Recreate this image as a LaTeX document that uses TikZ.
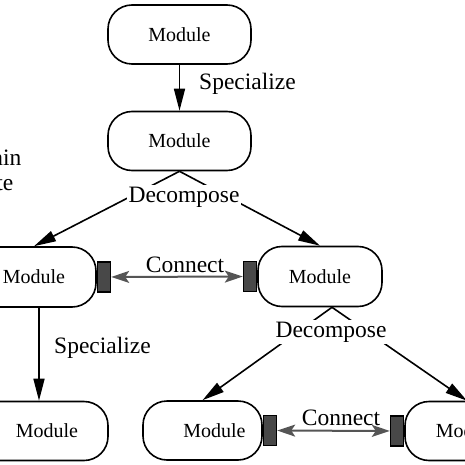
\documentclass[tikz,border=0pt]{standalone}
\usepackage{fontspec}
\setmainfont{Liberation Serif}
\usetikzlibrary{positioning, calc, arrows.meta}

\begin{document}
\begin{tikzpicture}[x=1pt, y=-1pt,
    module/.style={draw, line width=1.6pt, rounded corners=24pt, minimum height=59pt, inner sep=0pt, font=\fontsize{20}{24}\selectfont},
    port/.style={draw, line width=1.4pt, fill=portcolor, minimum width=13pt, minimum height=30pt, inner sep=0pt},
    arr/.style={line width=1.6pt, -{Triangle[length=22pt, width=11pt]}},
    conn/.style={line width=2pt, draw=conncolor, {Stealth[length=18pt, width=12pt, inset=4pt, color=conncolor]}-{Stealth[length=18pt, width=12pt, inset=4pt, color=conncolor]}},
    lbl/.style={font=\fontsize{23.5}{26}\selectfont, inner sep=1.5pt}
]

    % Define colors
    \definecolor{portcolor}{RGB}{72, 72, 72}
    \definecolor{conncolor}{RGB}{85, 85, 85}

    \useasboundingbox (0,0) rectangle (465,465);
    \clip (0,0) rectangle (465,465);

    % Cut-off side text
    \node[lbl, anchor=base east] (sidea) at (23,165) {ain};
    \node[lbl, anchor=base east] (sideb) at (15,190) {te};

    % Modules
    \node[module, minimum width=143pt] (top) at (179.5,34.5) {Module};
    \node[module, minimum width=143pt] (mid) at (179.5,141) {Module};
    \node[module, minimum width=124pt, minimum height=60pt] (ml) at (34,277) {Module};
    \node[module, minimum width=124pt, minimum height=60pt] (mr) at (320,276.5) {Module};
    \node[module, minimum width=138pt] (bl) at (39,431) {\hspace*{16pt}Module};
    \node[module, minimum width=119pt] (bm) at (202.5,430.5) {\hspace*{24pt}Module};
    \node[module, minimum width=124pt] (br) at (467,431) {Module};

    % Ports
    \node[port, right=0pt of ml] (pl) {};
    \node[port, left=0pt of mr] (pr) {};
    \node[port, right=0pt of bm] (pbm) {};
    \node[port, left=0pt of br] (pbr) {};

    % Specialize
    \draw[arr] (top) -- (mid);
    \node[lbl, anchor=base] (spec1) at (247.5,90) {Specialize};
    \draw[arr] (ml.south -| bl.north) -- (bl.north);
    \node[lbl, anchor=base] (spec2) at (102.5,353) {Specialize};

    % Decompose
    \draw[arr] (mid.south) -- (ml.north);
    \draw[arr] (mid.south) -- (mr.north);
    \node[lbl, anchor=base, fill=white] (dec1) at (184,202) {Decompose};
    \coordinate (split) at ($(mr.south)+(12,0)$);
    \draw[arr] (split) -- (bm.north);
    \draw[arr] (split) -- (br.north);
    \node[lbl, anchor=base, fill=white] (dec2) at (331,337) {Decompose};

    % Connect
    \draw[conn] (pl) -- (pr);
    \node[lbl, anchor=base] (con1) at (185,272) {Connect};
    \draw[conn] (pbm) -- (pbr);
    \node[lbl, anchor=base] (con2) at (341,425) {Connect};

\end{tikzpicture}
\end{document}
